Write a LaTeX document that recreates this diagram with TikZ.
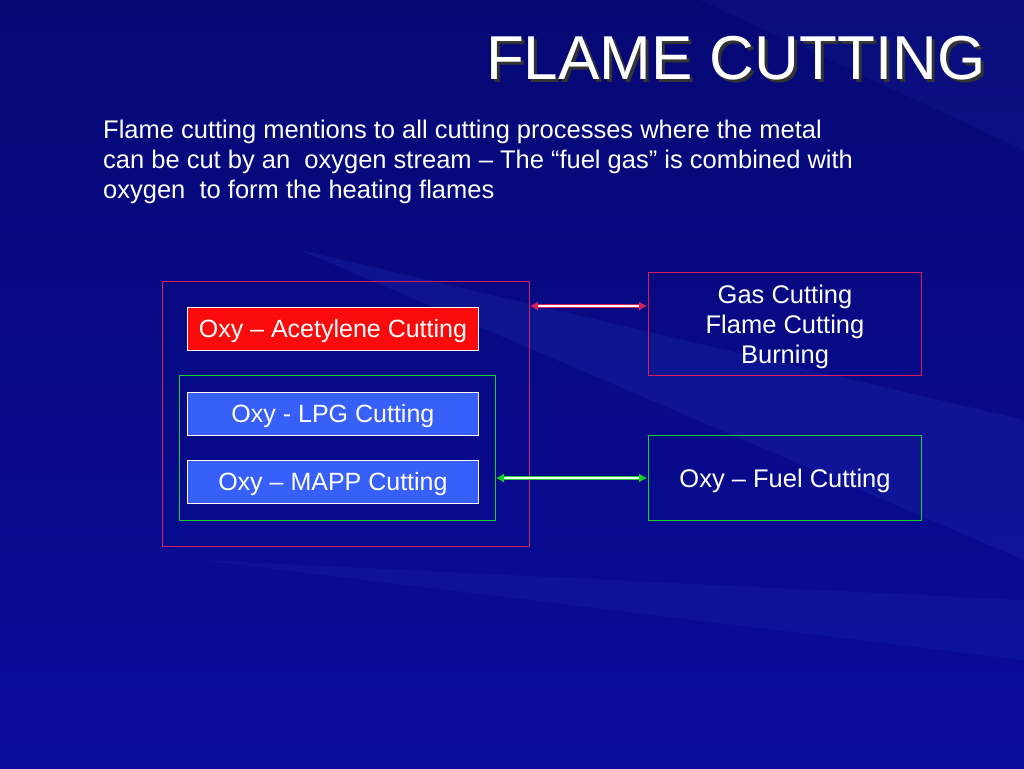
\documentclass[tikz,border=0pt]{standalone}
\usepackage{fontspec}
\setmainfont{Liberation Sans}
\usetikzlibrary{arrows.meta}
\definecolor{bg}{RGB}{10,12,155}
\definecolor{bgd}{RGB}{5,8,115}
\definecolor{ray}{RGB}{40,60,190}
\definecolor{mag}{RGB}{215,30,95}
\definecolor{grn}{RGB}{20,210,40}
\definecolor{blu}{RGB}{55,95,250}
\definecolor{redf}{RGB}{250,10,10}
\tikzset{
  inbox/.style={draw=white,line width=0.8pt,minimum width=291pt,minimum height=43pt,inner sep=0pt,text=white,font=\fontsize{25}{29}\selectfont},
  txt/.style={text=white,font=\fontsize{25.5}{30}\selectfont},
  dbl/.style={double distance=2pt,line width=1pt,{Latex[length=8pt,width=9pt]}-{Latex[length=8pt,width=9pt]}}
}
\begin{document}
\begin{tikzpicture}[x=1pt,y=-1pt]
\useasboundingbox (0,0) rectangle (1024,768);
\shade[top color=bgd,bottom color=bg] (0,0) rectangle (1024,768);
\fill[ray,opacity=0.2] (1024,420) -- (300,250) -- (1024,560) -- cycle;
\fill[ray,opacity=0.15] (1024,600) -- (200,560) -- (1024,660) -- cycle;
\fill[ray,opacity=0.12] (1024,0) -- (700,0) -- (1024,150) -- cycle;
\node[anchor=base east,text=black!80,font=\fontsize{62}{66}\selectfont] (ts) at (992,82) {FLAME CUTTING};
\node[anchor=base east,text=white,font=\fontsize{62}{66}\selectfont] (t) at (989,79) {FLAME CUTTING};
\node[txt,anchor=north west,align=left,inner sep=0pt] (p) at (103,120)
 {Flame cutting mentions to all cutting processes where the metal\\can be cut by an\ \ oxygen stream – The “fuel gas” is combined with\\oxygen\ \ to form the heating flames};
\node[draw=mag,line width=0.8pt,minimum width=367pt,minimum height=265pt,anchor=north west,inner sep=0pt] (outer) at (162,281) {};
\node[draw=grn,line width=0.8pt,minimum width=316pt,minimum height=145pt,anchor=north west,inner sep=0pt] (green) at (179,375) {};
\node[inbox,fill=redf,anchor=north west,text depth=-2pt] (a) at (187,307) {Oxy – Acetylene Cutting};
\node[inbox,fill=blu,anchor=north west,text depth=-2pt] (l) at (187,392) {Oxy - LPG Cutting};
\node[inbox,fill=blu,anchor=north west,text depth=-2pt] (m) at (187,460) {Oxy – MAPP Cutting};
\node[draw=mag,line width=0.8pt,minimum width=273pt,minimum height=103pt,anchor=north west,inner sep=0pt] (r1) at (648,272) {};
\node[txt,align=center] (r1t) at (785,327) {Gas Cutting\\Flame Cutting\\Burning};
\node[draw=grn,line width=0.8pt,minimum width=273pt,minimum height=85pt,anchor=north west,inner sep=0pt] (r2) at (648,435) {};
\node[txt] (r2t) at (785,481) {Oxy – Fuel Cutting};
\coordinate (a1) at (530,306); \coordinate (a2) at (647,306);
\coordinate (g1) at (496,478); \coordinate (g2) at (647,478);
\draw[dbl,draw=mag,double=white,color=mag] (a1) -- (a2);
\draw[dbl,draw=grn,double=white,color=grn] (g1) -- (g2);
\end{tikzpicture}
\end{document}
